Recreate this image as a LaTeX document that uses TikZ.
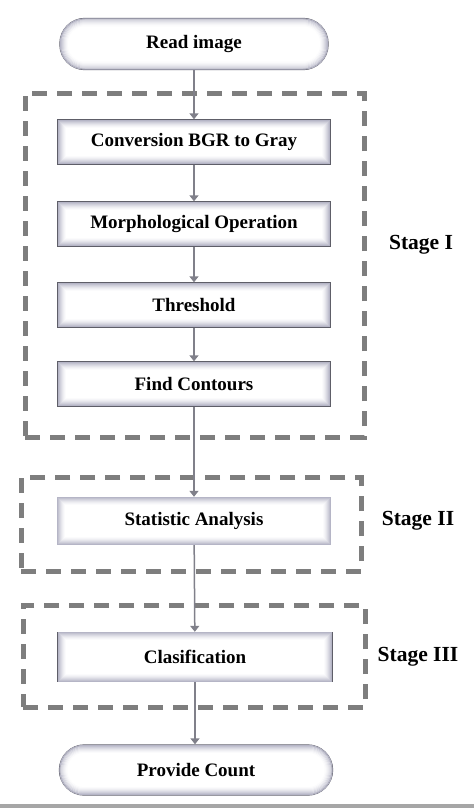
\documentclass[tikz,border=0pt]{standalone}
\usepackage{fontspec}
\setmainfont{Liberation Serif}
\usetikzlibrary{arrows.meta}
\definecolor{boxborder}{HTML}{5E5E68}
\definecolor{glowc}{HTML}{A8A8BC}
\definecolor{dashgray}{HTML}{7E7E7E}
\definecolor{arrowgray}{HTML}{80808A}
\tikzset{
  boxbase/.style={draw=boxborder, line width=1.4pt, fill=white, minimum width=272pt, minimum height=44pt, inner sep=0pt, font=\fontsize{19}{22}\selectfont\bfseries},
  procbox/.style={boxbase},
  pillbox/.style={boxbase, rounded corners=25pt, minimum height=51pt},
  stagebox/.style={draw=dashgray, line width=5pt, dash pattern=on 15pt off 10pt, inner sep=0pt},
  stagelabel/.style={font=\fontsize{21.5}{24}\selectfont\bfseries},
  flow/.style={draw=arrowgray, line width=1.5pt, -{Triangle[width=9pt,length=6pt]}},
}
\newcommand\boxglow[1]{%
  \foreach \i/\c in {1/85,2/70,3/55,4/42,5/30,6/20,7/11,8/5}{%
    \draw[line width=1pt, draw=glowc!\c!white] ([shift={(\i pt,-\i pt)}]#1.north west) rectangle ([shift={(-\i pt,\i pt)}]#1.south east);}}
\newcommand\pillglow[1]{%
  \foreach \i/\c/\r in {1/85/24,2/70/23,3/55/22,4/42/21,5/30/20,6/20/19,7/11/18,8/5/17}{%
    \draw[line width=1pt, draw=glowc!\c!white, rounded corners=\r pt] ([shift={(\i pt,-\i pt)}]#1.north west) rectangle ([shift={(-\i pt,\i pt)}]#1.south east);}}
\begin{document}
\begin{tikzpicture}[x=1pt,y=1pt]
\useasboundingbox (0,0) rectangle (474,-808);
\fill[white] (0,0) rectangle (474,-808);
\fill[black!35] (0,-804) rectangle (474,-808);
% stage boxes
\node[stagebox, minimum width=339pt, minimum height=344pt] (s1) at (194.5,-265) {};
\node[stagebox, minimum width=340pt, minimum height=94pt] (s2) at (191,-524) {};
\node[stagebox, minimum width=342pt, minimum height=102pt] (s3) at (194,-656) {};
\node[stagelabel] (l1) at (421,-245) {Stage I};
\node[stagelabel] (l2) at (418,-521) {Stage II};
\node[stagelabel] (l3) at (418,-657) {Stage III};
% process nodes
\node[pillbox, minimum width=268pt] (read) at (194,-44) {Read image};
\node[procbox] (conv) at (194,-142) {Conversion BGR to Gray};
\node[procbox] (morph) at (194,-224) {Morphological Operation};
\node[procbox] (thr) at (194,-305) {Threshold};
\node[procbox] (fc) at (194,-384) {Find Contours};
\node[procbox, minimum width=273pt, minimum height=47pt] (stat) at (194,-521) {Statistic Analysis};
\node[procbox, minimum width=274pt, minimum height=49pt] (cls) at (195,-657) {Clasification};
\node[pillbox, minimum width=273pt, minimum height=50pt] (prov) at (196,-770) {Provide Count};
\pillglow{read}\pillglow{prov}
\boxglow{conv}\boxglow{morph}\boxglow{thr}\boxglow{fc}\boxglow{stat}\boxglow{cls}
% connectors
\draw[flow] (read) -- (conv);
\draw[flow] (conv) -- (morph);
\draw[flow] (morph) -- (thr);
\draw[flow] (thr) -- (fc);
\draw[flow] (fc) -- (stat);
\draw[flow] (stat) -- (cls);
\draw[flow] (cls.south) -- (cls.south |- prov.north);
\end{tikzpicture}
\end{document}
